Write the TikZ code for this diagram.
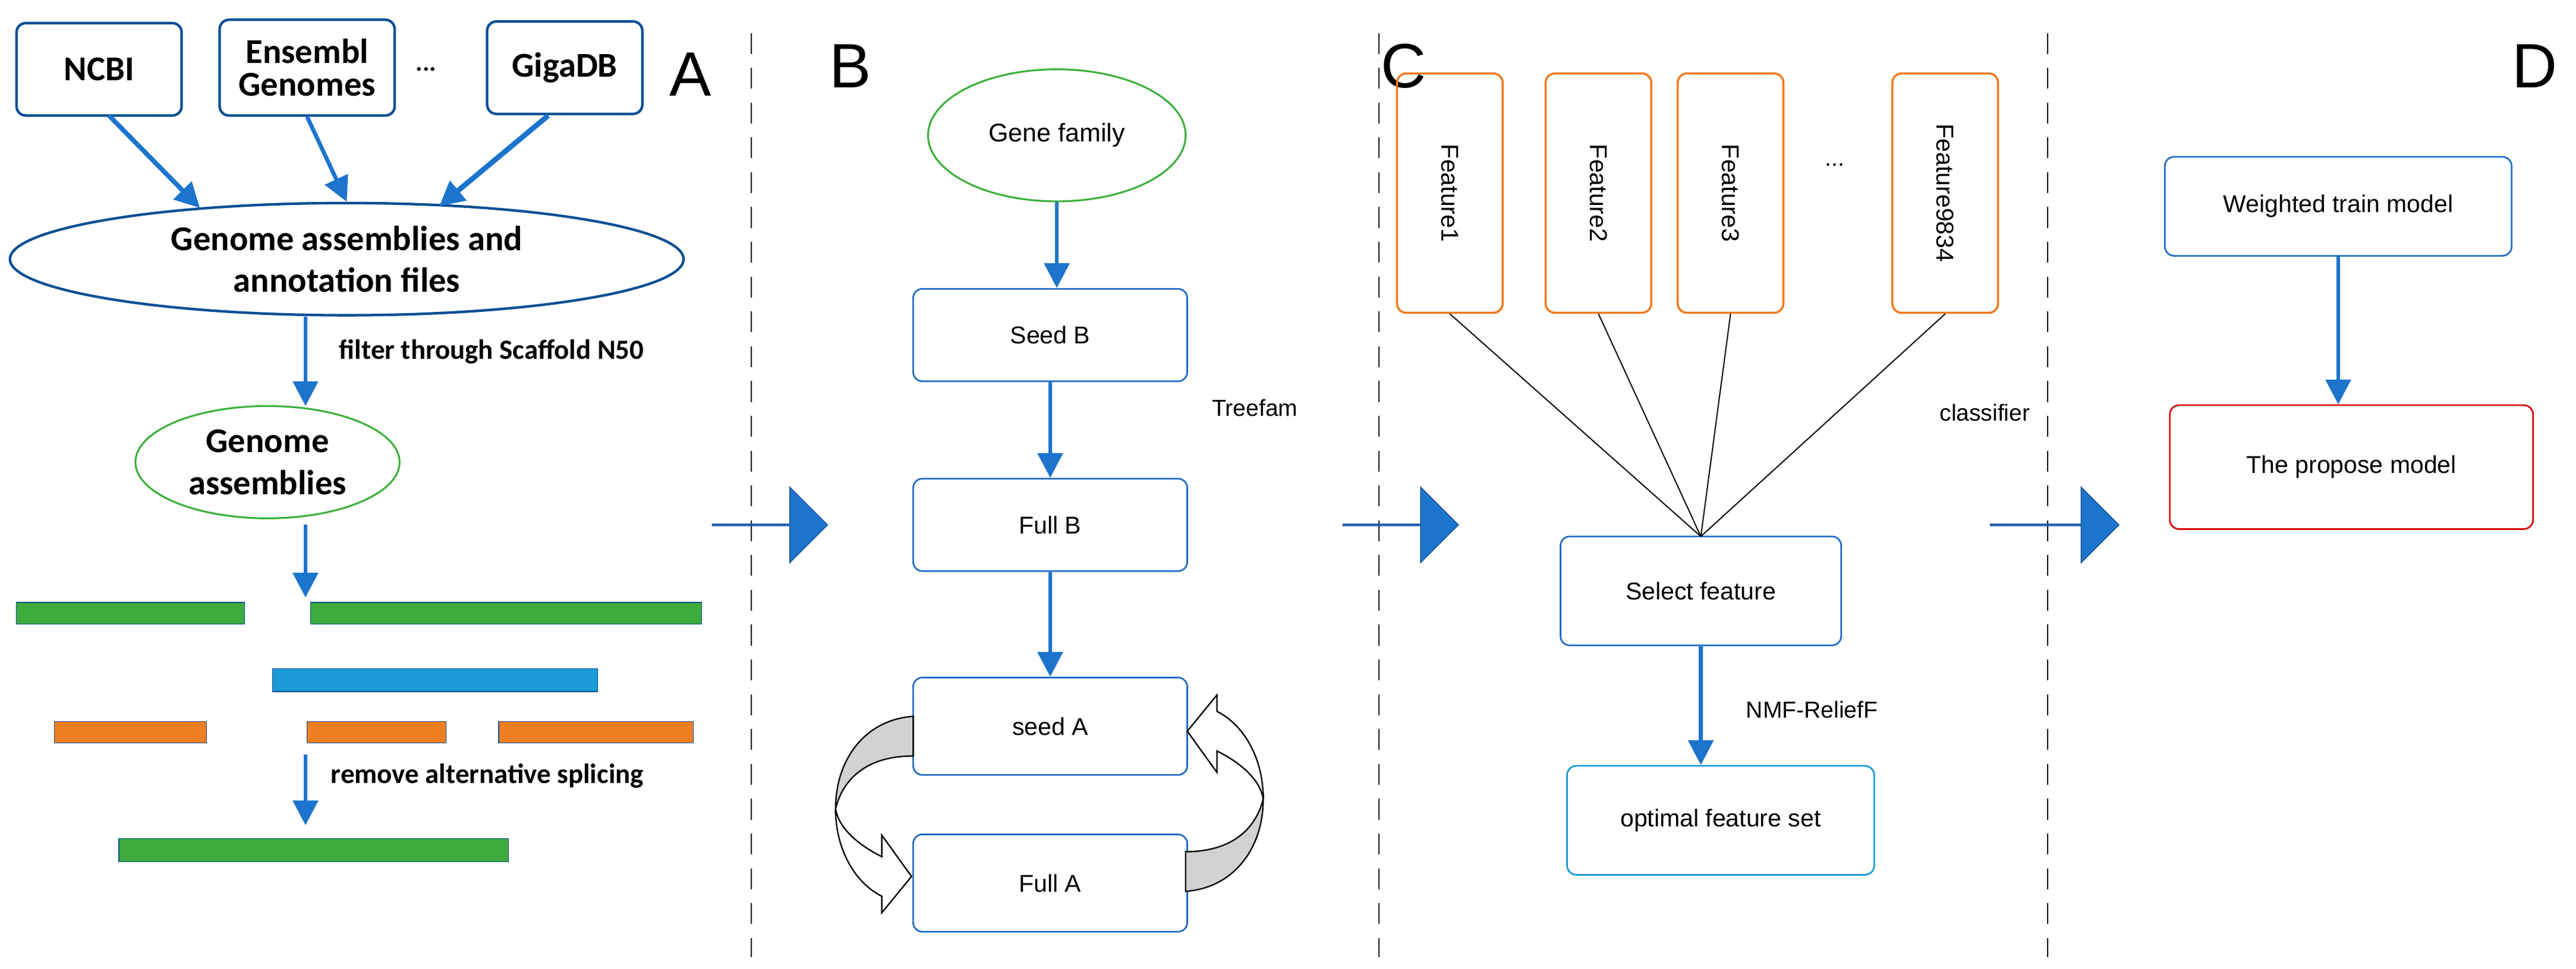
\documentclass[tikz,border=0pt]{standalone}
\usepackage{fontspec}
\setmainfont{Liberation Sans}
\newfontfamily\carl{Carlito}
\usetikzlibrary{shapes.geometric,shapes.arrows,arrows.meta}
\definecolor{dkb}{HTML}{0B4F93}
\definecolor{mb}{HTML}{1F6BC4}
\definecolor{ab}{HTML}{1C74CC}
\definecolor{gbar}{HTML}{3DAA3D}
\definecolor{bbar}{HTML}{1A9AD6}
\definecolor{obar}{HTML}{F07F22}
\definecolor{gline}{HTML}{3CB03C}
\definecolor{oline}{HTML}{F07A1E}
\begin{document}
\begin{tikzpicture}[x=0.05cm,y=-0.05cm,
  srcbox/.style={draw=dkb,line width=2.2pt,rounded corners=8pt,font=\carl\bfseries\fontsize{30}{34}\selectfont,align=center},
  bbox/.style={draw=mb,line width=1.4pt,rounded corners=8pt,font=\fontsize{21}{25}\selectfont},
  fbox/.style={draw=oline,line width=1.8pt,rounded corners=8pt,minimum width=3.2cm,minimum height=7.25cm},
  ftxt/.style={rotate=-90,font=\fontsize{21}{25}\selectfont},
  barr/.style={draw=ab,line width=3.5pt,-{Triangle[length=0.75cm,width=0.75cm]}},
  lbl/.style={font=\carl\bfseries\fontsize{24}{28}\selectfont,anchor=west},
  plbl/.style={font=\fontsize{54}{60}\selectfont},
  big/.style={single arrow,fill=ab,draw=mb!70!black,line width=0.6pt,minimum height=3.5cm,minimum width=2.3cm,single arrow head extend=0.45cm,inner sep=0pt},
  sepline/.style={line width=1.1pt,dash pattern=on 18pt off 12pt},
  bar/.style={draw=dkb,line width=0.6pt}]
\useasboundingbox (0,0) rectangle (1560,587);
% Panel A
\node[srcbox,minimum width=5cm,minimum height=2.8cm] (ncbi) at (60,42) {NCBI};
\node[srcbox,minimum width=5.3cm,minimum height=2.9cm] (ens) at (186,41) {Ensembl\\[-6pt]Genomes};
\node[font=\carl\bfseries\fontsize{22}{24}\selectfont] (dots) at (258,42) {...};
\node[srcbox,minimum width=4.7cm,minimum height=2.8cm] (giga) at (342,41) {GigaDB};
\node[plbl] (A) at (418,45) {A};
\node[ellipse,draw=dkb,line width=2.2pt,minimum width=20.4cm,minimum height=3.4cm,font=\carl\bfseries\fontsize{30}{36}\selectfont,align=center] (gaa) at (210,157) {Genome assemblies and\\annotation files};
\coordinate (n1) at (66,70); \coordinate (n2) at (121,126);
\draw[barr,line width=4pt] (n1) -- (n2);
\draw[barr] (ens.south) -- (gaa.north);
\coordinate (g1) at (332,70); \coordinate (g2) at (266,125);
\draw[barr,line width=4.5pt] (g1) -- (g2);
\node[ellipse,draw=gline,line width=1.6pt,minimum width=8cm,minimum height=3.4cm,font=\carl\bfseries\fontsize{30}{36}\selectfont,align=center] (ga) at (162,280) {Genome\\assemblies};
\coordinate (f1) at (185,192); \coordinate (f2) at (185,246);
\draw[barr] (f1) -- (f2);
\node[lbl] (filt) at (203,213) {filter through Scaffold N50};
\coordinate (r1) at (185,318); \coordinate (r2) at (185,362);
\draw[barr] (r1) -- (r2);
\fill[gbar,bar] (10,365) rectangle (148,378);
\fill[gbar,bar] (188,365) rectangle (425,378);
\fill[bbar,bar] (165,405) rectangle (362,419);
\fill[obar,bar] (33,437) rectangle (125,450);
\fill[obar,bar] (186,437) rectangle (270,450);
\fill[obar,bar] (302,437) rectangle (420,450);
\coordinate (s1) at (185,457); \coordinate (s2) at (185,500);
\draw[barr] (s1) -- (s2);
\node[lbl] (rem) at (198,470) {remove alternative splicing};
\fill[gbar,bar] (72,508) rectangle (308,522);
\draw[sepline] (455,20) -- (455,580);
\node[big] (bigA) at (466,318) {};
% Panel B
\node[plbl] (B) at (515,40) {B};
\node[ellipse,draw=gline,line width=1.6pt,minimum width=7.8cm,minimum height=4cm,font=\fontsize{22}{26}\selectfont] (gf) at (640,82) {Gene family};
\node[bbox,minimum width=8.3cm,minimum height=2.8cm] (sb) at (636,203) {Seed B};
\node[bbox,minimum width=8.3cm,minimum height=2.8cm] (fb) at (636,318) {Full B};
\node[bbox,minimum width=8.3cm,minimum height=2.95cm] (sa) at (636,440) {seed A};
\node[bbox,minimum width=8.3cm,minimum height=2.95cm] (fa) at (636,535) {Full A};
\draw[barr] (gf.south) -- (gf.south|-sb.north);
\draw[barr] (sb.south) -- (fb.north);
\draw[barr] (fb.south) -- (sa.north);
\node[font=\fontsize{20}{24}\selectfont] (tf) at (760,247) {Treefam};
% cycle arrows
\begin{scope}[line width=1.2pt,line join=miter]
\filldraw[fill=gray!35] (553,434) .. controls (524,436) and (506,460) .. (506,490) .. controls (511,470) and (527,458) .. (553,458) -- cycle;
\filldraw[fill=white] (506,490) .. controls (506,515) and (518,535) .. (534,543) -- (534,553) -- (552,531) -- (534,506) -- (534,519) .. controls (520,512) and (508,502) .. (506,490) -- cycle;
\filldraw[fill=gray!35] (718,540) .. controls (747,538) and (765,514) .. (765,484) .. controls (760,504) and (744,516) .. (718,516) -- cycle;
\filldraw[fill=white] (765,484) .. controls (765,459) and (753,439) .. (737,431) -- (737,421) -- (719,443) -- (737,468) -- (737,455) .. controls (751,462) and (763,472) .. (765,484) -- cycle;
\end{scope}
\draw[sepline] (835,20) -- (835,580);
\node[big] (bigB) at (848,318) {};
% Panel C
\node[plbl] (C) at (850,40) {C};
\node[fbox] (f1b) at (878,117) {}; \node[ftxt] at (f1b) {Feature1};
\node[fbox] (f2b) at (968,117) {}; \node[ftxt] at (f2b) {Feature2};
\node[fbox] (f3b) at (1048,117) {}; \node[ftxt] at (f3b) {Feature3};
\node[font=\fontsize{20}{24}\selectfont] (cd) at (1111,100) {...};
\node[fbox] (f4b) at (1178,117) {}; \node[ftxt] at (f4b) {Feature9834};
\node[bbox,minimum width=8.5cm,minimum height=3.3cm] (sel) at (1030,358) {Select feature};
\coordinate (hub) at (1030,325);
\foreach \f in {f1b,f2b,f3b,f4b} \draw[line width=1pt] (\f.south) -- (hub);
\node[bbox,draw=bbar,minimum width=9.3cm,minimum height=3.3cm] (opt) at (1042,497) {optimal feature set};
\draw[barr] (sel.south) -- (sel.south|-opt.north);
\node[font=\fontsize{20}{24}\selectfont,anchor=west] (nmf) at (1055,430) {NMF-ReliefF};
\draw[sepline] (1240,20) -- (1240,580);
\node[font=\fontsize{20}{24}\selectfont] (cls) at (1202,250) {classifier};
\node[big,minimum height=3.9cm] (bigC) at (1244,318) {};
% Panel D
\node[plbl] (D) at (1535,40) {D};
\node[bbox,minimum width=10.5cm,minimum height=3cm] (wt) at (1416,125) {Weighted train model};
\node[bbox,draw=red!85!black,minimum width=11cm,minimum height=3.75cm] (pm) at (1424,283) {The propose model};
\draw[barr] (wt.south) -- (wt.south|-pm.north);
\end{tikzpicture}
\end{document}
